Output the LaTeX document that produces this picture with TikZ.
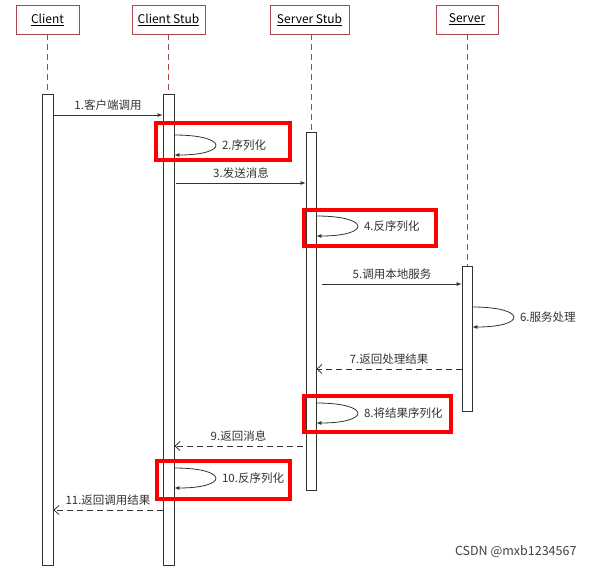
\documentclass[tikz,border=0pt]{standalone}
\usepackage{fontspec}
\setmainfont{Noto Sans CJK SC}
\usetikzlibrary{arrows.meta,positioning}
\definecolor{lifered}{HTML}{A8464E}
\definecolor{linegray}{HTML}{333333}
\begin{document}
\begin{tikzpicture}[x=1pt, y=-1pt,
    actor/.style={draw=lifered, thick, fill=white, inner sep=0pt,
      minimum height=29pt, font=\fontsize{12}{14}\selectfont},
    bar/.style={draw=linegray, fill=white, line width=0.8pt, inner sep=0pt, minimum width=11pt},
    life/.style={lifered, line width=0.7pt, dash pattern=on 6pt off 4pt},
    call/.style={linegray, line width=0.8pt, -{Latex[length=5pt,width=4pt]}},
    back/.style={linegray, line width=0.8pt, dash pattern=on 6pt off 4pt, -{Straight Barb[length=5pt,width=9pt]}},
    self/.style={linegray, line width=0.8pt, -{Latex[length=5pt,width=4pt]}, out=0, in=0, looseness=7},
    lbl/.style={font=\fontsize{11.5}{13}\selectfont},
    hl/.style={draw=red, line width=4pt}]

  \useasboundingbox (0,0) rectangle (593,568);

  % --- kopfzeile ---
  \node[actor, minimum width=63pt] (client) at (47.5,19.5) {\underline{Client}};
  \node[actor, minimum width=73pt] (cstub)  at (168.5,19.5) {\underline{Client Stub}};
  \node[actor, minimum width=79pt] (sstub)  at (309.5,19.5) {\underline{Server Stub}};
  \node[actor, minimum width=62pt] (server) at (467,19.5) {\underline{Server}};

  % --- aktivierungsbalken ---
  \node[bar, minimum height=471pt] (clientbar) at (47.5,329.5) {};
  \node[bar, minimum height=471pt] (cstubbar)  at (168.5,329.5) {};
  \node[bar, minimum height=358pt, minimum width=10pt] (sstubbar) at (311,311) {};
  \node[bar, minimum height=145pt, minimum width=10pt] (serverbar) at (467,338.5) {};

  % --- lebenslinien ---
  \draw[life] (clientbar.north |- client.south) -- (clientbar.north);
  \draw[life] (cstubbar.north |- cstub.south) -- (cstubbar.north);
  \draw[life] (sstubbar.north |- sstub.south) -- (sstubbar.north);
  \draw[life] (serverbar.north |- server.south) -- (serverbar.north);

  % --- (1) aufruf ---
  \draw[call] (clientbar.east |- 0,115) -- node[lbl, above=1pt] {1.客户端调用} (cstubbar.west |- 0,115);

  % --- (2) serialisieren ---
  \draw[self] (cstubbar.east |- 0,135) to node[lbl, right=3pt] {2.序列化} (cstubbar.east |- 0,155);

  % --- (3) senden ---
  \draw[call] ([xshift=2pt]cstubbar.east |- 0,183) -- node[lbl, above=1pt] {3.发送消息} (sstubbar.west |- 0,183);

  % --- (4) deserialisieren ---
  \draw[self] (sstubbar.east |- 0,216) to node[lbl, right=3pt] {4.反序列化} (sstubbar.east |- 0,236);

  % --- (5) lokaler aufruf ---
  \draw[call] ([xshift=6pt]sstubbar.east |- 0,284) -- node[lbl, above=1pt] {5.调用本地服务} (serverbar.west |- 0,284);

  % --- (6) verarbeitung ---
  \draw[self] (serverbar.east |- 0,307) to node[lbl, right=3pt] {6.服务处理} (serverbar.east |- 0,327);

  % --- (7) ergebnis ---
  \draw[back] (serverbar.west |- 0,369) -- node[lbl, above=1pt] {7.返回处理结果} (sstubbar.east |- 0,369);

  % --- (8) ergebnis serialisieren ---
  \draw[self] (sstubbar.east |- 0,403) to node[lbl, right=3pt] {8.将结果序列化} (sstubbar.east |- 0,423);

  % --- (9) antwort ---
  \draw[back] ([xshift=-3pt]sstubbar.west |- 0,446) -- node[lbl, above=1pt] {9.返回消息} (cstubbar.east |- 0,446);

  % --- (10) deserialisieren ---
  \draw[self] (cstubbar.east |- 0,468) to node[lbl, right=3pt] {10.反序列化} (cstubbar.east |- 0,488);

  % --- (11) rueckgabe ---
  \draw[back] (cstubbar.west |- 0,510) -- node[lbl, above=1pt] {11.返回调用结果} (clientbar.east |- 0,510);

  % --- markierungen ---
  \draw[hl] (156,123) rectangle (289.5,160);
  \draw[hl] (303.5,209.5) rectangle (436,245.5);
  \draw[hl] (303.5,395.5) rectangle (450.5,432);
  \draw[hl] (156.5,461) rectangle (289.5,498.5);

  \node[font=\fontsize{12.5}{14}\selectfont, text=black!75, anchor=east] (mark) at (580,552) {CSDN @mxb1234567};

\end{tikzpicture}
\end{document}
